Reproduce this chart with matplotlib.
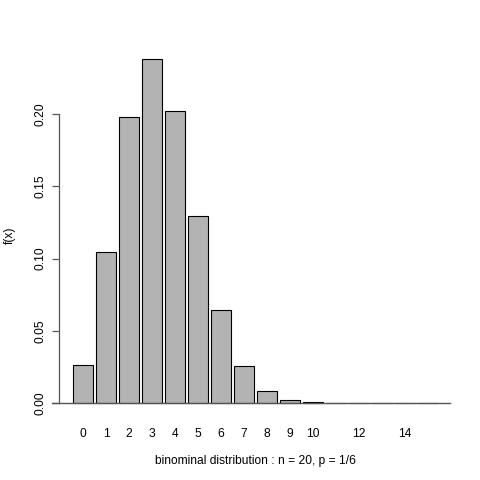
import matplotlib
matplotlib.use("Agg")
import matplotlib.pyplot as plt
import numpy as np

# binomial pmf, n = 20, p = 1/6
x_vals = list(range(16))
probs = [0.0261, 0.1043, 0.1982, 0.2379, 0.2022, 0.1294, 0.0647, 0.0259,
         0.0084, 0.0022, 0.00049, 0.00009, 0.000013, 0.0000017, 0.0000002, 0.0]
x_labels = ["0", "1", "2", "3", "4", "5", "6", "7", "8", "9", "10", "", "12", "", "14", ""]
y_ticks = [0.00, 0.05, 0.10, 0.15, 0.20]

plt.rcParams['font.family'] = ['Liberation Sans', 'DejaVu Sans']
fs = 8.64

W = 480.0
fig = plt.figure(figsize=(4.8, 4.8), dpi=100)
left_px, right_px, top_px, bottom_px = 59, 450, 55, 407
ax = fig.add_axes([left_px / W, 1 - bottom_px / W,
                   (right_px - left_px) / W, (bottom_px - top_px) / W])

pitch = 23.0
c0 = 83.0
ax.set_xlim((left_px - c0) / pitch, (right_px - c0) / pitch)
yscale = 1445.0
y0 = 403.0
ax.set_ylim((y0 - bottom_px) / yscale, (y0 - top_px) / yscale)

ax.bar(x_vals, probs, width=0.84, color="#b3b3b3", edgecolor="black", linewidth=0.8)

# horizontal line at zero
ax.axhline(0, xmin=-7 / 391.0, xmax=1.0, color="#555555", linewidth=1.0, clip_on=False)

for s in ["top", "right", "bottom"]:
    ax.spines[s].set_visible(False)
ax.spines["left"].set_bounds(0, 0.2)
ax.spines["left"].set_color("#555555")
ax.spines["left"].set_linewidth(0.9)

ax.set_yticks(y_ticks)
ax.set_yticklabels(["%.2f" % v for v in y_ticks], rotation=90, va="center", fontsize=fs)
ax.tick_params(axis="y", length=5, width=0.9, color="#555555", pad=4)

ax.set_xticks(x_vals)
ax.set_xticklabels(x_labels, fontsize=fs)
ax.tick_params(axis="x", length=0, pad=15)

fig.text(10 / W, 1 - 235 / W, "f(x)", rotation=90, fontsize=fs, ha="center", va="center")
fig.text(255 / W, 1 - 461 / W, "binominal distribution : n = 20, p = 1/6",
         fontsize=fs, ha="center", va="center")

fig.savefig("out.png", dpi=100)
